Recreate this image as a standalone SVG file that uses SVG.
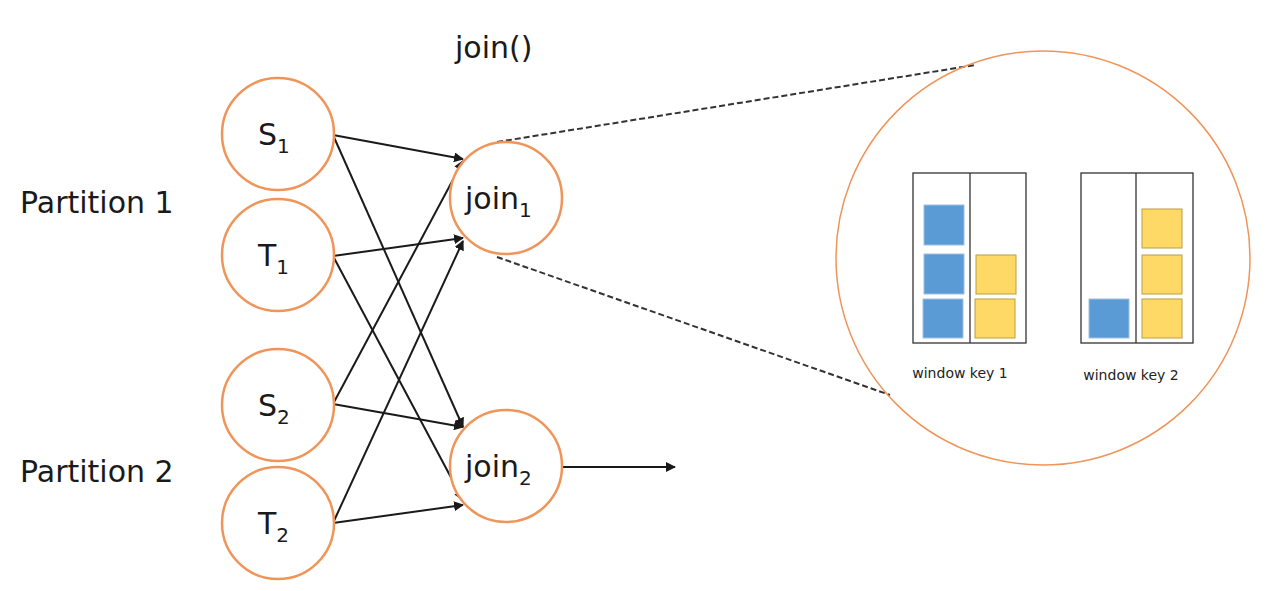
<svg xmlns="http://www.w3.org/2000/svg" width="1270" height="591" viewBox="0 0 1270 591">
<style>
.n{fill:#fff;stroke:#f0955a;stroke-width:2.5}
.t{font-family:"DejaVu Sans",Verdana,sans-serif;font-size:30px;fill:#1a1a1a}
.s{font-size:20px}
.e{stroke:#1a1a1a;stroke-width:2;fill:none;marker-end:url(#a)}
.d{stroke:#333;stroke-width:2;stroke-dasharray:6,3;fill:none}
.b{fill:#5b9bd5;stroke:#9fbfe0}
.y{fill:#ffd966;stroke:#b8a040}
.k{font-family:"DejaVu Sans",Verdana,sans-serif;font-size:14px;fill:#222;text-anchor:middle}
</style>
<defs><marker id="a" markerWidth="10" markerHeight="10" refX="9" refY="5" orient="auto" markerUnits="userSpaceOnUse" viewBox="0 0 10 10"><path d="M0,0 L10,5 L0,10 z" fill="#1a1a1a"/></marker></defs>
<text class="t" x="20" y="213">Partition 1</text>
<text class="t" x="20" y="482">Partition 2</text>
<text class="t" x="455" y="58">join()</text>
<g id="connectors">
<path class="e" d="M333,135 L463,159"/>
<path class="e" d="M333,135 L463,427"/>
<path class="e" d="M333,256 L463,238"/>
<path class="e" d="M333,256 L463,500"/>
<path class="e" d="M333,404 L463,161"/>
<path class="e" d="M333,404 L463,427"/>
<path class="e" d="M333,523 L463,241"/>
<path class="e" d="M333,523 L463,505"/>
<path class="e" d="M562,467 L675,467"/>
<path class="d" d="M497,142 L975,65"/>
<path class="d" d="M497,257 L890,395"/>
</g>
<g id="S1"><circle class="n" cx="278" cy="134" r="56"/><text class="t" x="258" y="145">S<tspan class="s" dy="8">1</tspan></text></g>
<g id="T1"><circle class="n" cx="278" cy="255" r="56"/><text class="t" x="258" y="266">T<tspan class="s" dy="8">1</tspan></text></g>
<g id="S2"><circle class="n" cx="278" cy="405" r="56"/><text class="t" x="258" y="416">S<tspan class="s" dy="8">2</tspan></text></g>
<g id="T2"><circle class="n" cx="278" cy="523" r="56"/><text class="t" x="258" y="534">T<tspan class="s" dy="8">2</tspan></text></g>
<g id="join1"><circle class="n" cx="506" cy="198" r="56"/><text class="t" x="465" y="209">join<tspan class="s" dy="8">1</tspan></text></g>
<g id="join2"><circle class="n" cx="506" cy="466" r="56"/><text class="t" x="465" y="477">join<tspan class="s" dy="8">2</tspan></text></g>
<g id="zoom">
<circle cx="1043" cy="258" r="207" fill="none" stroke="#f0955a" stroke-width="1.5"/>
<rect x="913" y="173" width="113" height="170" fill="#fff" stroke="#333" stroke-width="1.3"/>
<line x1="970" y1="173" x2="970" y2="343" stroke="#333" stroke-width="1.3"/>
<rect x="1081" y="173" width="112" height="170" fill="#fff" stroke="#333" stroke-width="1.3"/>
<line x1="1136" y1="173" x2="1136" y2="343" stroke="#333" stroke-width="1.3"/>
<rect class="b" x="924" y="205" width="40" height="40"/>
<rect class="b" x="924" y="254" width="40" height="40"/>
<rect class="b" x="923" y="299" width="40" height="39"/>
<rect class="y" x="976" y="255" width="40" height="39"/>
<rect class="y" x="975" y="299" width="40" height="39"/>
<rect class="b" x="1089" y="299" width="40" height="39"/>
<rect class="y" x="1142" y="209" width="40" height="39"/>
<rect class="y" x="1142" y="255" width="40" height="39"/>
<rect class="y" x="1142" y="299" width="40" height="39"/>
<text class="k" x="960" y="378">window key 1</text>
<text class="k" x="1131" y="380">window key 2</text>
</g>
</svg>
